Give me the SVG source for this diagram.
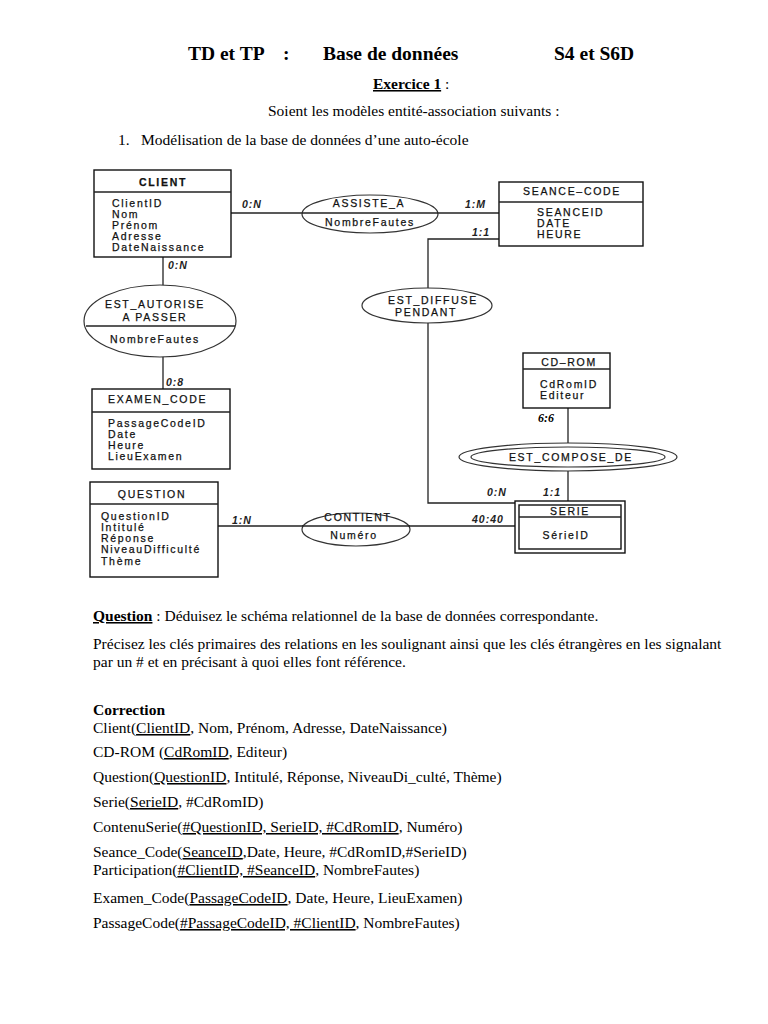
<svg xmlns="http://www.w3.org/2000/svg" width="768" height="1024" viewBox="0 0 768 1024">
<style>
.t{font-family:"Liberation Serif","Times New Roman",serif;fill:#000}
.h{font-size:19.5px;font-weight:bold}
.p{font-size:15.5px}
.d{font-family:"Liberation Sans",Arial,sans-serif;font-size:10.5px;letter-spacing:1.7px;fill:#111;stroke:#111;stroke-width:0.25}
.b{font-weight:bold}
.c{font-family:"Liberation Sans",Arial,sans-serif;font-size:10.5px;font-style:italic;font-weight:bold;letter-spacing:1px;fill:#222}
.box{fill:#fff;stroke:#111;stroke-width:1.4}
.ln{fill:none;stroke:#222;stroke-width:1.3}
.el{fill:#fff;stroke:#333;stroke-width:1.2}
</style>
<rect width="768" height="1024" fill="#fff"/>
<g id="header">
<text class="t h" x="188" y="60">TD et TP</text>
<text class="t h" x="283" y="60">:</text>
<text class="t h" x="323" y="60">Base de données</text>
<text class="t h" x="554" y="60">S4 et S6D</text>
<text class="t p b" x="373" y="89"><tspan text-decoration="underline">Exercice 1</tspan><tspan font-weight="normal"> :</tspan></text>
<text class="t p" x="268" y="116">Soient les modèles entité-association suivants :</text>
<text class="t p" x="118" y="145">1.</text>
<text class="t p" x="141" y="145">Modélisation de la base de données d’une auto-école</text>
</g>
<g id="connectors">
<line class="ln" x1="231" y1="213" x2="499" y2="213"/>
<polyline class="ln" points="499,239 428,239 428,503 515,503"/>
<line class="ln" x1="163" y1="257" x2="163" y2="389"/>
<line class="ln" x1="218" y1="526" x2="515" y2="526"/>
<line class="ln" x1="568" y1="408" x2="568" y2="501" stroke-width="2.2"/>
<text class="c" x="242" y="208">0:N</text>
<text class="c" x="465" y="208">1:M</text>
<text class="c" x="472" y="236">1:1</text>
<text class="c" x="168" y="269">0:N</text>
<text class="c" x="166" y="386">0:8</text>
<text class="t b" x="538" y="422" font-size="12" font-style="italic">6:6</text>
<text class="c" x="487" y="496">0:N</text>
<text class="c" x="543" y="496">1:1</text>
<text class="c" x="472" y="523">40:40</text>
<text class="c" x="232" y="524">1:N</text>
</g>
<g id="client">
<rect class="box" x="94" y="170" width="137" height="87"/>
<line class="ln" x1="94" y1="192" x2="231" y2="192"/>
<text class="d b" x="163" y="186" text-anchor="middle">CLIENT</text>
<text class="d"><tspan x="112" y="206.5">ClientID</tspan><tspan x="112" y="217.5">Nom</tspan><tspan x="112" y="228.5">Prénom</tspan><tspan x="112" y="239.5">Adresse</tspan><tspan x="112" y="250.5">DateNaissance</tspan></text>
</g>
<g id="assiste_a">
<ellipse class="el" cx="370" cy="214" rx="68" ry="19"/>
<line class="ln" x1="302" y1="213" x2="438" y2="213"/>
<text class="d" x="369" y="207" text-anchor="middle">ASSISTE_A</text>
<text class="d" x="370" y="226" text-anchor="middle">NombreFautes</text>
</g>
<g id="seance_code">
<rect class="box" x="499" y="182" width="144" height="64"/>
<line class="ln" x1="499" y1="202" x2="643" y2="202"/>
<text class="d" x="572" y="195" text-anchor="middle">SEANCE–CODE</text>
<text class="d"><tspan x="537" y="216">SEANCEID</tspan><tspan x="537" y="227">DATE</tspan><tspan x="537" y="238">HEURE</tspan></text>
</g>
<g id="est_autorise">
<ellipse class="el" cx="160" cy="321" rx="76" ry="36"/>
<line class="ln" x1="86" y1="326" x2="235" y2="326"/>
<text class="d" x="155" y="308" text-anchor="middle">EST_AUTORISE</text>
<text class="d" x="155" y="321" text-anchor="middle">A PASSER</text>
<text class="d" x="155" y="343" text-anchor="middle">NombreFautes</text>
</g>
<g id="est_diffuse">
<ellipse class="el" cx="427" cy="305.5" rx="65" ry="17.5"/>
<text class="d"><tspan x="388" y="304">EST_DIFFUSE</tspan><tspan x="395" y="316">PENDANT</tspan></text>
</g>
<g id="cd_rom">
<rect class="box" x="523" y="353" width="87" height="55"/>
<line class="ln" x1="523" y1="369" x2="610" y2="369"/>
<text class="d" x="569" y="366" text-anchor="middle">CD–ROM</text>
<text class="d"><tspan x="540" y="388">CdRomID</tspan><tspan x="540" y="399">Editeur</tspan></text>
</g>
<g id="est_compose_de">
<ellipse class="el" cx="568" cy="457" rx="109" ry="14"/>
<ellipse class="el" cx="568" cy="457" rx="97" ry="10"/>
<text class="d" x="571" y="461" text-anchor="middle">EST_COMPOSE_DE</text>
</g>
<g id="examen_code">
<rect class="box" x="92" y="389" width="138" height="80"/>
<line class="ln" x1="92" y1="412" x2="230" y2="412"/>
<text class="d" x="108" y="403">EXAMEN_CODE</text>
<text class="d"><tspan x="108" y="427">PassageCodeID</tspan><tspan x="108" y="438">Date</tspan><tspan x="108" y="449">Heure</tspan><tspan x="108" y="460">LieuExamen</tspan></text>
</g>
<g id="question">
<rect class="box" x="90" y="482" width="128" height="95"/>
<line class="ln" x1="90" y1="504" x2="218" y2="504"/>
<text class="d" x="152" y="498" text-anchor="middle">QUESTION</text>
<text class="d"><tspan x="101" y="520">QuestionID</tspan><tspan x="101" y="531">Intitulé</tspan><tspan x="101" y="542">Réponse</tspan><tspan x="101" y="553">NiveauDifficulté</tspan><tspan x="101" y="565">Thème</tspan></text>
</g>
<g id="contient">
<ellipse class="el" cx="356" cy="529.5" rx="54" ry="16.5"/>
<line class="ln" x1="302" y1="526" x2="410" y2="526"/>
<text class="d" x="358" y="523" text-anchor="middle" dy="-2">CONTIENT</text>
<text class="d" x="354" y="539" text-anchor="middle">Numéro</text>
</g>
<g id="serie">
<rect class="box" x="515" y="501" width="110" height="52"/>
<rect class="box" x="519" y="505" width="102" height="44"/>
<line class="ln" x1="519" y1="517" x2="621" y2="517"/>
<text class="d" x="570" y="514.5" text-anchor="middle" font-size="9.5">SERIE</text>
<text class="d" x="566" y="539" text-anchor="middle">SérieID</text>
</g>
<g id="body">
<text class="t p" x="93" y="621"><tspan font-weight="bold" text-decoration="underline">Question</tspan> : Déduisez le schéma relationnel de la base de données correspondante.</text>
<text class="t p" x="93" y="649">Précisez les clés primaires des relations en les soulignant ainsi que les clés étrangères en les signalant</text>
<text class="t p" x="93" y="667">par un # et en précisant à quoi elles font référence.</text>
<text class="t p b" x="93" y="715">Correction</text>
<text class="t p" x="93" y="733">Client(<tspan text-decoration="underline">ClientID</tspan>, Nom, Prénom, Adresse, DateNaissance)</text>
<text class="t p" x="93" y="757">CD-ROM (<tspan text-decoration="underline">CdRomID</tspan>, Editeur)</text>
<text class="t p" x="93" y="782">Question(<tspan text-decoration="underline">QuestionID</tspan>, Intitulé, Réponse, NiveauDi_culté, Thème)</text>
<text class="t p" x="93" y="807">Serie(<tspan text-decoration="underline">SerieID</tspan>, #CdRomID)</text>
<text class="t p" x="93" y="832">ContenuSerie(<tspan text-decoration="underline">#QuestionID, SerieID, #CdRomID</tspan>, Numéro)</text>
<text class="t p" x="93" y="857">Seance_Code(<tspan text-decoration="underline">SeanceID</tspan>,Date, Heure, #CdRomID,#SerieID)</text>
<text class="t p" x="93" y="875">Participation(<tspan text-decoration="underline">#ClientID, #SeanceID</tspan>, NombreFautes)</text>
<text class="t p" x="93" y="903">Examen_Code(<tspan text-decoration="underline">PassageCodeID</tspan>, Date, Heure, LieuExamen)</text>
<text class="t p" x="93" y="928">PassageCode(<tspan text-decoration="underline">#PassageCodeID, #ClientID</tspan>, NombreFautes)</text>
</g>
</svg>
